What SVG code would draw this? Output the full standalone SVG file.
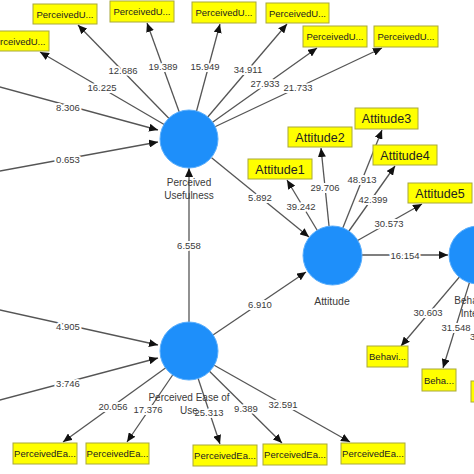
<svg xmlns="http://www.w3.org/2000/svg" width="474" height="474" viewBox="0 0 474 474">
<defs>
<marker id="ah" markerUnits="userSpaceOnUse" markerWidth="9" markerHeight="8" refX="9" refY="4" orient="auto">
<path d="M0,0 L9,4 L0,8 z" fill="#111"/>
</marker>
<style>
.c{stroke:#555;stroke-width:1.3;fill:none;marker-end:url(#ah)}
.l{font-family:"Liberation Sans",Arial,sans-serif;font-size:9.5px;fill:#3a3a3a;text-anchor:middle;stroke:#fff;stroke-width:4;stroke-linejoin:round;paint-order:stroke}
.n{fill:#1E8FFA;stroke:#5aaefc;stroke-width:1}
.nt{font-family:"Liberation Sans",Arial,sans-serif;font-size:10px;fill:#3a3a3a;text-anchor:middle}
.b{fill:#ffff00;stroke:#a8a83a;stroke-width:1}
.bt{font-family:"Liberation Sans",Arial,sans-serif;font-size:9.5px;fill:#222;text-anchor:middle}
.at{font-family:"Liberation Sans",Arial,sans-serif;font-size:12.5px;fill:#222;text-anchor:middle}
</style>
</defs>
<rect width="474" height="474" fill="#fff"/>
<g id="connectors">
<line class="c" x1="-20" y1="81.6" x2="158" y2="130"/>
<line class="c" x1="-20" y1="174.7" x2="158" y2="142"/>
<line class="c" x1="-20" y1="305.6" x2="158" y2="345"/>
<line class="c" x1="-20" y1="405.3" x2="158" y2="358"/>
<line class="c" x1="189" y1="139" x2="40" y2="52"/>
<line class="c" x1="189" y1="139" x2="78" y2="25"/>
<line class="c" x1="189" y1="139" x2="147" y2="23"/>
<line class="c" x1="189" y1="139" x2="220" y2="24"/>
<line class="c" x1="189" y1="139" x2="287" y2="24"/>
<line class="c" x1="189" y1="139" x2="317" y2="48"/>
<line class="c" x1="189" y1="139" x2="382" y2="48"/>
<line class="c" x1="189" y1="322" x2="189" y2="168"/>
<line class="c" x1="211.6" y1="157.7" x2="309" y2="237"/>
<line class="c" x1="213" y1="335" x2="306" y2="272"/>
<line class="c" x1="362" y1="255" x2="448" y2="255"/>
<line class="c" x1="332" y1="255" x2="287" y2="180"/>
<line class="c" x1="332" y1="255" x2="321" y2="148"/>
<line class="c" x1="332" y1="255" x2="382" y2="130"/>
<line class="c" x1="332" y1="255" x2="395" y2="166"/>
<line class="c" x1="332" y1="255" x2="422" y2="204"/>
<line class="c" x1="189" y1="351" x2="63" y2="442"/>
<line class="c" x1="189" y1="351" x2="127" y2="442"/>
<line class="c" x1="189" y1="351" x2="220" y2="444"/>
<line class="c" x1="189" y1="351" x2="282" y2="443"/>
<line class="c" x1="189" y1="351" x2="350" y2="442"/>
<line class="c" x1="478" y1="255" x2="401" y2="346"/>
<line class="c" x1="478" y1="255" x2="443" y2="368"/>
<line class="c" x1="478" y1="255" x2="492" y2="380"/>
<text class="l" x="68" y="110.5">8.306</text>
<text class="l" x="68" y="162.5">0.653</text>
<text class="l" x="68" y="329.5">4.905</text>
<text class="l" x="68" y="386.5">3.746</text>
<text class="l" x="102" y="90.5">16.225</text>
<text class="l" x="123" y="73.5">12.686</text>
<text class="l" x="163" y="69.5">19.389</text>
<text class="l" x="205" y="69.5">15.949</text>
<text class="l" x="248" y="72.5">34.911</text>
<text class="l" x="265" y="86.5">27.933</text>
<text class="l" x="298" y="90.5">21.733</text>
<text class="l" x="189" y="248.5">6.558</text>
<text class="l" x="260" y="200.5">5.892</text>
<text class="l" x="260" y="307.5">6.910</text>
<text class="l" x="405" y="258.5">16.154</text>
<text class="l" x="301" y="209.5">39.242</text>
<text class="l" x="325" y="190.5">29.706</text>
<text class="l" x="362" y="182.5">48.913</text>
<text class="l" x="373" y="202.5">42.399</text>
<text class="l" x="389" y="226.5">30.573</text>
<text class="l" x="113" y="409.5">20.056</text>
<text class="l" x="148" y="412.5">17.376</text>
<text class="l" x="209" y="415.5">25.313</text>
<text class="l" x="246" y="411.5">9.389</text>
<text class="l" x="283" y="407.5">32.591</text>
<text class="l" x="470" y="340" style="text-anchor:start">3</text>
<text class="l" x="428" y="315.5">30.603</text>
<text class="l" x="456" y="330.5">31.548</text>
</g>
<g id="pu">
<circle class="n" cx="189" cy="139" r="29"/>
<text class="nt" x="189" y="185.5">Perceived</text>
<text class="nt" x="189" y="199">Usefulness</text>
</g>
<g id="peu">
<circle class="n" cx="189" cy="351" r="29"/>
<text class="nt" x="189" y="400.5">Perceived Ease of</text>
<text class="nt" x="189" y="414">Use</text>
</g>
<g id="att">
<circle class="n" cx="332.5" cy="255.5" r="29.5"/>
<text class="nt" x="332" y="305" style="font-size:10.5px">Attitude</text>
</g>
<g id="bi">
<circle class="n" cx="478" cy="255" r="29"/>
<text class="nt" x="478" y="304">Behavioral</text>
<text class="nt" x="480" y="317">Intention</text>
</g>
<g id="pu1"><rect class="b" x="-15" y="31" width="64" height="20"/><text class="bt" x="17" y="44.5">PerceivedU...</text></g>
<g id="pu2"><rect class="b" x="33" y="4" width="64" height="20"/><text class="bt" x="65" y="17.5">PerceivedU...</text></g>
<g id="pu3"><rect class="b" x="110" y="1" width="64" height="21"/><text class="bt" x="142" y="15">PerceivedU...</text></g>
<g id="pu4"><rect class="b" x="192" y="2" width="64" height="21"/><text class="bt" x="224" y="16">PerceivedU...</text></g>
<g id="pu5"><rect class="b" x="266" y="3" width="63" height="20"/><text class="bt" x="297.5" y="16.5">PerceivedU...</text></g>
<g id="pu6"><rect class="b" x="303" y="26" width="64" height="21"/><text class="bt" x="335" y="40">PerceivedU...</text></g>
<g id="pu7"><rect class="b" x="374" y="26" width="64" height="21"/><text class="bt" x="406" y="40">PerceivedU...</text></g>
<g id="a1"><rect class="b" x="248" y="159" width="64" height="20"/><text class="at" x="280" y="173.5">Attitude1</text></g>
<g id="a2"><rect class="b" x="288" y="127" width="64" height="20"/><text class="at" x="320" y="141.5">Attitude2</text></g>
<g id="a3"><rect class="b" x="355" y="108" width="63" height="21"/><text class="at" x="386.5" y="123">Attitude3</text></g>
<g id="a4"><rect class="b" x="373" y="145" width="64" height="20"/><text class="at" x="405" y="159.5">Attitude4</text></g>
<g id="a5"><rect class="b" x="408" y="183" width="64" height="20"/><text class="at" x="440" y="197.5">Attitude5</text></g>
<g id="peu1"><rect class="b" x="13" y="443" width="64" height="21"/><text class="bt" x="45" y="457">PerceivedEa...</text></g>
<g id="peu2"><rect class="b" x="86" y="443" width="63" height="21"/><text class="bt" x="117.5" y="457">PerceivedEa...</text></g>
<g id="peu3"><rect class="b" x="193" y="445" width="64" height="21"/><text class="bt" x="225" y="459">PerceivedEa...</text></g>
<g id="peu4"><rect class="b" x="263" y="444" width="64" height="21"/><text class="bt" x="295" y="458">PerceivedEa...</text></g>
<g id="peu5"><rect class="b" x="341" y="443" width="64" height="21"/><text class="bt" x="373" y="457">PerceivedEa...</text></g>
<g id="bi1"><rect class="b" x="367" y="346" width="41" height="21"/><text class="bt" x="387.5" y="360">Behavi...</text></g>
<g id="bi2"><rect class="b" x="422" y="369" width="34" height="22"/><text class="bt" x="439" y="383.5">Beha...</text></g>
<g id="bi3"><rect class="b" x="471" y="381" width="40" height="21"/></g>
</svg>
